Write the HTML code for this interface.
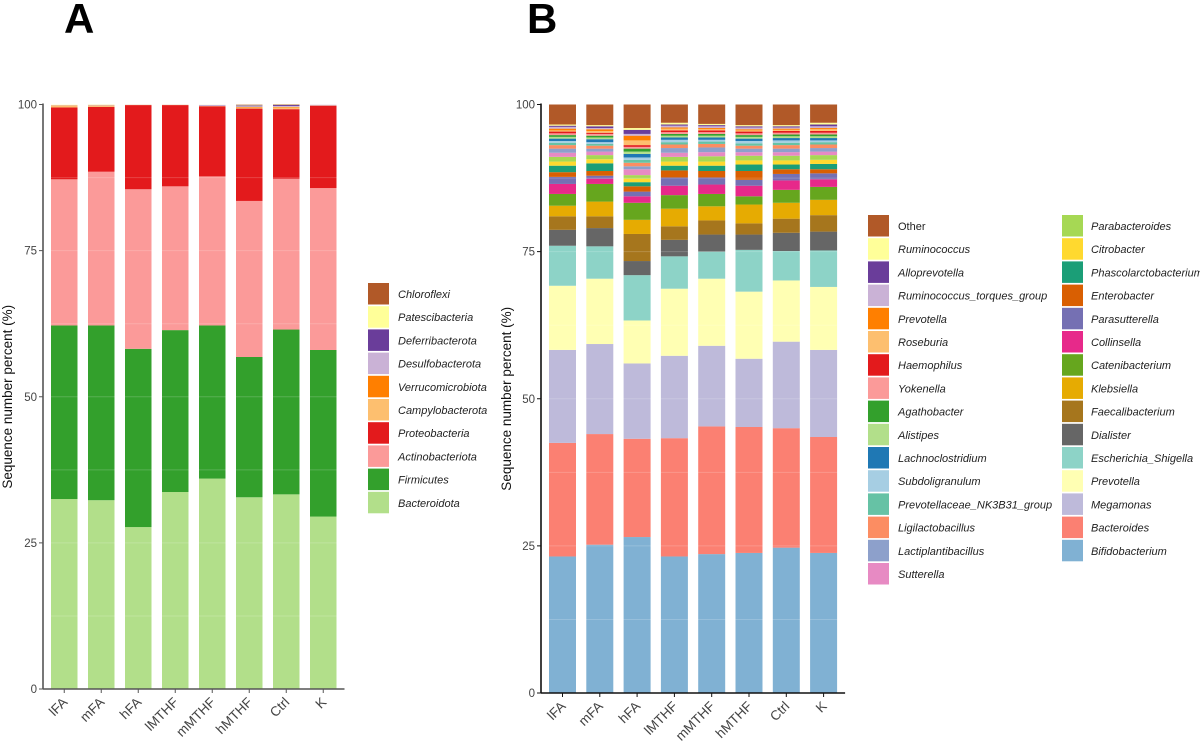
<!DOCTYPE html>
<html><head><meta charset="utf-8">
<style>
html,body{margin:0;padding:0;background:#fff;}
svg{display:block;font-family:"Liberation Sans",Arial,sans-serif;}
</style></head>
<body>
<svg id="fig" width="1200" height="741" viewBox="0 0 1200 741">
  <text x="64" y="33" font-size="42" font-weight="bold">A</text>
  <text x="527" y="33" font-size="42" font-weight="bold">B</text>
  <g id="panelA"></g>
  <g id="panelB"></g>
</svg>
<script>
const samples = ["lFA","mFA","hFA","lMTHF","mMTHF","hMTHF","Ctrl","K"];
const yTicks = [0,25,50,75,100];

// Panel A (bottom-up)
const phylaA = ["Bacteroidota","Firmicutes","Actinobacteriota","Proteobacteria","Campylobacterota","Verrucomicrobiota","Desulfobacterota","Deferribacterota","Patescibacteria","Chloroflexi"];
const colorsA = ["#b2df8a","#33a02c","#fb9a99","#e31a1c","#fdbf6f","#ff7f00","#cab2d6","#6a3d9a","#ffff99","#b15928"];
const aBacteroidota = [32.5,32.3,27.7,33.7,36.0,32.8,33.3,29.5];
const aFirmicutes = [29.7,29.9,30.5,27.7,26.2,24.0,28.2,28.5];
const aActino = [25.0,26.3,27.3,24.6,25.5,26.7,25.8,27.7];
const aProteo = [12.3,11.1,14.4,13.9,12.0,15.8,11.9,14.1];
const aCampylo = [0.3,0.2,0.05,0.05,0.05,0.2,0.3,0.05];
const aVerruco = [0.05,0.05,0.0,0.0,0.0,0.1,0.1,0.0];
const aDesulfo = [0.05,0.1,0.02,0.02,0.15,0.1,0.15,0.1];
const aDeferri = [0.0,0.0,0.0,0.0,0.02,0.15,0.2,0.0];
const aPatesci = [0.05,0.05,0.0,0.0,0.02,0.1,0.05,0.0];
const aChloro = [0.0,0.0,0.0,0.0,0.0,0.05,0.05,0.0];
const valuesA = [aBacteroidota,aFirmicutes,aActino,aProteo,aCampylo,aVerruco,aDesulfo,aDeferri,aPatesci,aChloro];
const legendA = ["Chloroflexi","Patescibacteria","Deferribacterota","Desulfobacterota","Verrucomicrobiota","Campylobacterota","Proteobacteria","Actinobacteriota","Firmicutes","Bacteroidota"];

// Panel B (bottom-up; "Other" fills to 100)
const generaB = ["Bifidobacterium","Bacteroides","Megamonas","Prevotella","Escherichia_Shigella","Dialister","Faecalibacterium","Klebsiella","Catenibacterium","Collinsella","Parasutterella","Enterobacter","Phascolarctobacterium","Citrobacter","Parabacteroides","Sutterella","Lactiplantibacillus","Ligilactobacillus","Prevotellaceae_NK3B31_group","Subdoligranulum","Lachnoclostridium","Alistipes","Agathobacter","Yokenella","Haemophilus","Roseburia","Prevotella2","Ruminococcus_torques_group","Alloprevotella","Ruminococcus"];
const colorsB = ["#80b1d3","#fb8072","#bebada","#ffffb3","#8dd3c7","#666666","#a6761d","#e6ab02","#66a61e","#e7298a","#7570b3","#d95f02","#1b9e77","#ffd92f","#a6d854","#e78ac3","#8da0cb","#fc8d62","#66c2a5","#a6cee3","#1f78b4","#b2df8a","#33a02c","#fb9a99","#e31a1c","#fdbf6f","#ff7f00","#cab2d6","#6a3d9a","#ffff99"];
const valuesB = [
 [23.2,25.2,26.5,23.2,23.6,23.8,24.7,23.8],
 [19.3,18.8,16.7,20.1,21.7,21.4,20.3,19.7],
 [15.8,15.3,12.8,14.0,13.7,11.6,14.7,14.8],
 [10.9,11.1,7.3,11.4,11.4,11.4,10.4,10.7],
 [6.8,5.5,7.7,5.5,4.6,7.1,5.0,6.2],
 [2.7,3.1,2.4,2.8,2.9,2.6,3.1,3.2],
 [2.3,2.0,4.6,2.3,2.4,1.9,2.4,2.8],
 [1.8,2.5,2.4,3.0,2.4,3.2,2.7,2.6],
 [2.0,3.0,2.9,2.3,2.1,1.4,2.2,2.2],
 [1.7,0.9,1.1,1.6,1.6,1.8,1.6,1.3],
 [1.2,0.5,0.8,1.4,1.2,1.0,1.1,1.0],
 [0.8,0.8,0.9,1.2,1.1,1.5,0.8,0.7],
 [1.1,1.3,0.7,0.8,0.9,1.1,0.8,0.9],
 [0.7,0.7,0.6,0.7,0.7,0.7,0.7,0.7],
 [0.8,0.7,0.6,0.8,0.9,0.8,0.8,0.8],
 [0.7,0.6,1.0,0.7,0.7,0.6,0.6,0.6],
 [0.7,0.5,0.5,0.8,0.8,0.6,0.6,0.6],
 [0.6,0.5,0.6,0.6,0.6,0.5,0.6,0.6],
 [0.4,0.3,0.5,0.4,0.4,0.4,0.4,0.4],
 [0.3,0.3,0.4,0.4,0.3,0.4,0.4,0.3],
 [0.4,0.5,0.6,0.4,0.4,0.4,0.4,0.4],
 [0.3,0.3,0.4,0.3,0.3,0.3,0.3,0.3],
 [0.3,0.3,0.5,0.3,0.3,0.3,0.3,0.3],
 [0.3,0.3,0.3,0.3,0.3,0.3,0.3,0.3],
 [0.3,0.2,0.3,0.3,0.3,0.3,0.3,0.3],
 [0.2,0.3,0.8,0.3,0.2,0.2,0.2,0.3],
 [0.3,0.3,0.8,0.2,0.2,0.2,0.2,0.2],
 [0.3,0.2,0.3,0.3,0.3,0.3,0.2,0.3],
 [0.2,0.3,0.7,0.2,0.2,0.2,0.2,0.3],
 [0.2,0.2,0.3,0.3,0.2,0.2,0.2,0.3]
];
const otherColor = "#b15928";
const legendB1 = ["Other","Ruminococcus","Alloprevotella","Ruminococcus_torques_group","Prevotella","Roseburia","Haemophilus","Yokenella","Agathobacter","Alistipes","Lachnoclostridium","Subdoligranulum","Prevotellaceae_NK3B31_group","Ligilactobacillus","Lactiplantibacillus","Sutterella"];
const legendB1Colors = ["#b15928","#ffff99","#6a3d9a","#cab2d6","#ff7f00","#fdbf6f","#e31a1c","#fb9a99","#33a02c","#b2df8a","#1f78b4","#a6cee3","#66c2a5","#fc8d62","#8da0cb","#e78ac3"];
const legendB2 = ["Parabacteroides","Citrobacter","Phascolarctobacterium","Enterobacter","Parasutterella","Collinsella","Catenibacterium","Klebsiella","Faecalibacterium","Dialister","Escherichia_Shigella","Prevotella","Megamonas","Bacteroides","Bifidobacterium"];
const legendB2Colors = ["#a6d854","#ffd92f","#1b9e77","#d95f02","#7570b3","#e7298a","#66a61e","#e6ab02","#a6761d","#666666","#8dd3c7","#ffffb3","#bebada","#fb8072","#80b1d3"];

const NS = "http://www.w3.org/2000/svg";
function mk(tag, attrs, parent){ const e=document.createElementNS(NS,tag); for(const k in attrs) e.setAttribute(k,attrs[k]); parent.appendChild(e); return e; }

function drawPanel(g, cfg){
  const y = v => cfg.y0 - v/100*(cfg.y0-cfg.y100);
  const x = i => cfg.bx0 + i*cfg.step;
  samples.forEach((s,i)=>{
    let acc=0;
    cfg.series.forEach((vals,k)=>{
      const v=vals[i];
      if(v<=0) return;
      const r=mk("rect",{x:x(i),y:y(acc+v),width:cfg.bw,height:Math.max(0,y(acc)-y(acc+v)),fill:cfg.colors[k]},g);
      
      
      acc+=v;
    });
    if(cfg.fillOther && acc<100){
      const r=mk("rect",{x:x(i),y:y(100),width:cfg.bw,height:y(acc)-y(100),fill:otherColor},g);
      
      
    }
    const cx=x(i)+cfg.bw/2;
    mk("line",{x1:cx,x2:cx,y1:cfg.y0,y2:cfg.y0+4,stroke:cfg.axisColor,"stroke-width":1},g);
    const t=mk("text",{x:cx+4,y:cfg.y0+14,"font-size":13.5,fill:"#444","text-anchor":"end",transform:`rotate(-45 ${cx+4} ${cfg.y0+14})`},g);
    t.textContent=s;
    
    
  });
  [12.5,37.5,62.5,87.5,25,50,75].forEach(v=>{
    mk("line",{x1:cfg.ax,x2:x(samples.length-1)+cfg.bw+6,y1:y(v),y2:y(v),stroke:"#ffffff","stroke-opacity":0.18,"stroke-width":1},g);
  });
  const ya=mk("line",{x1:cfg.ax,x2:cfg.ax,y1:y(100)-1,y2:cfg.y0,stroke:cfg.axisColor,"stroke-width":1.6},g);
   
  const xa=mk("line",{x1:cfg.ax,x2:x(samples.length-1)+cfg.bw+8,y1:cfg.y0,y2:cfg.y0,stroke:cfg.axisColor,"stroke-width":1.6},g);
   
  yTicks.forEach(v=>{
    mk("line",{x1:cfg.ax-4,x2:cfg.ax,y1:y(v),y2:y(v),stroke:cfg.axisColor,"stroke-width":1},g);
    const t=mk("text",{x:cfg.ax-6,y:y(v)+4,"font-size":11.5,fill:"#444","text-anchor":"end"},g);
    t.textContent=v;
    
    
  });
  const tt=mk("text",{x:cfg.titleX,y:(cfg.y0+cfg.y100)/2,"font-size":13.5,fill:"#111","text-anchor":"middle",transform:`rotate(-90 ${cfg.titleX} ${(cfg.y0+cfg.y100)/2})`},g);
  tt.textContent="Sequence number percent (%)";
  
  
}

function drawLegend(g, names, colors, sx, sy, tx){
  names.forEach((n,i)=>{
    const yy=sy+i*23.2;
    const r=mk("rect",{x:sx,y:yy,width:21,height:21.5,fill:colors[i]},g);
    
    
    const t=mk("text",{x:tx,y:yy+15,"font-size":11,fill:"#222","font-style":n==="Other"?"normal":"italic"},g);
    t.textContent=n;
    
    
  });
}

const gA=document.getElementById("panelA");
drawPanel(gA,{series:valuesA,colors:colorsA,names:phylaA,y0:689,y100:104.5,bx0:51,step:37,bw:26.5,ax:43,axisColor:"#555",titleX:12,fillOther:false});
drawLegend(gA,legendA,["#b15928","#ffff99","#6a3d9a","#cab2d6","#ff7f00","#fdbf6f","#e31a1c","#fb9a99","#33a02c","#b2df8a"],368,283,398);

const gB=document.getElementById("panelB");
drawPanel(gB,{series:valuesB,colors:colorsB,names:generaB,y0:693,y100:104.5,bx0:549,step:37.3,bw:27,ax:541,axisColor:"#111",titleX:511,fillOther:true});
drawLegend(gB,legendB1,legendB1Colors,868,215,898);
drawLegend(gB,legendB2,legendB2Colors,1062,215,1091);
</script>
</body></html>
